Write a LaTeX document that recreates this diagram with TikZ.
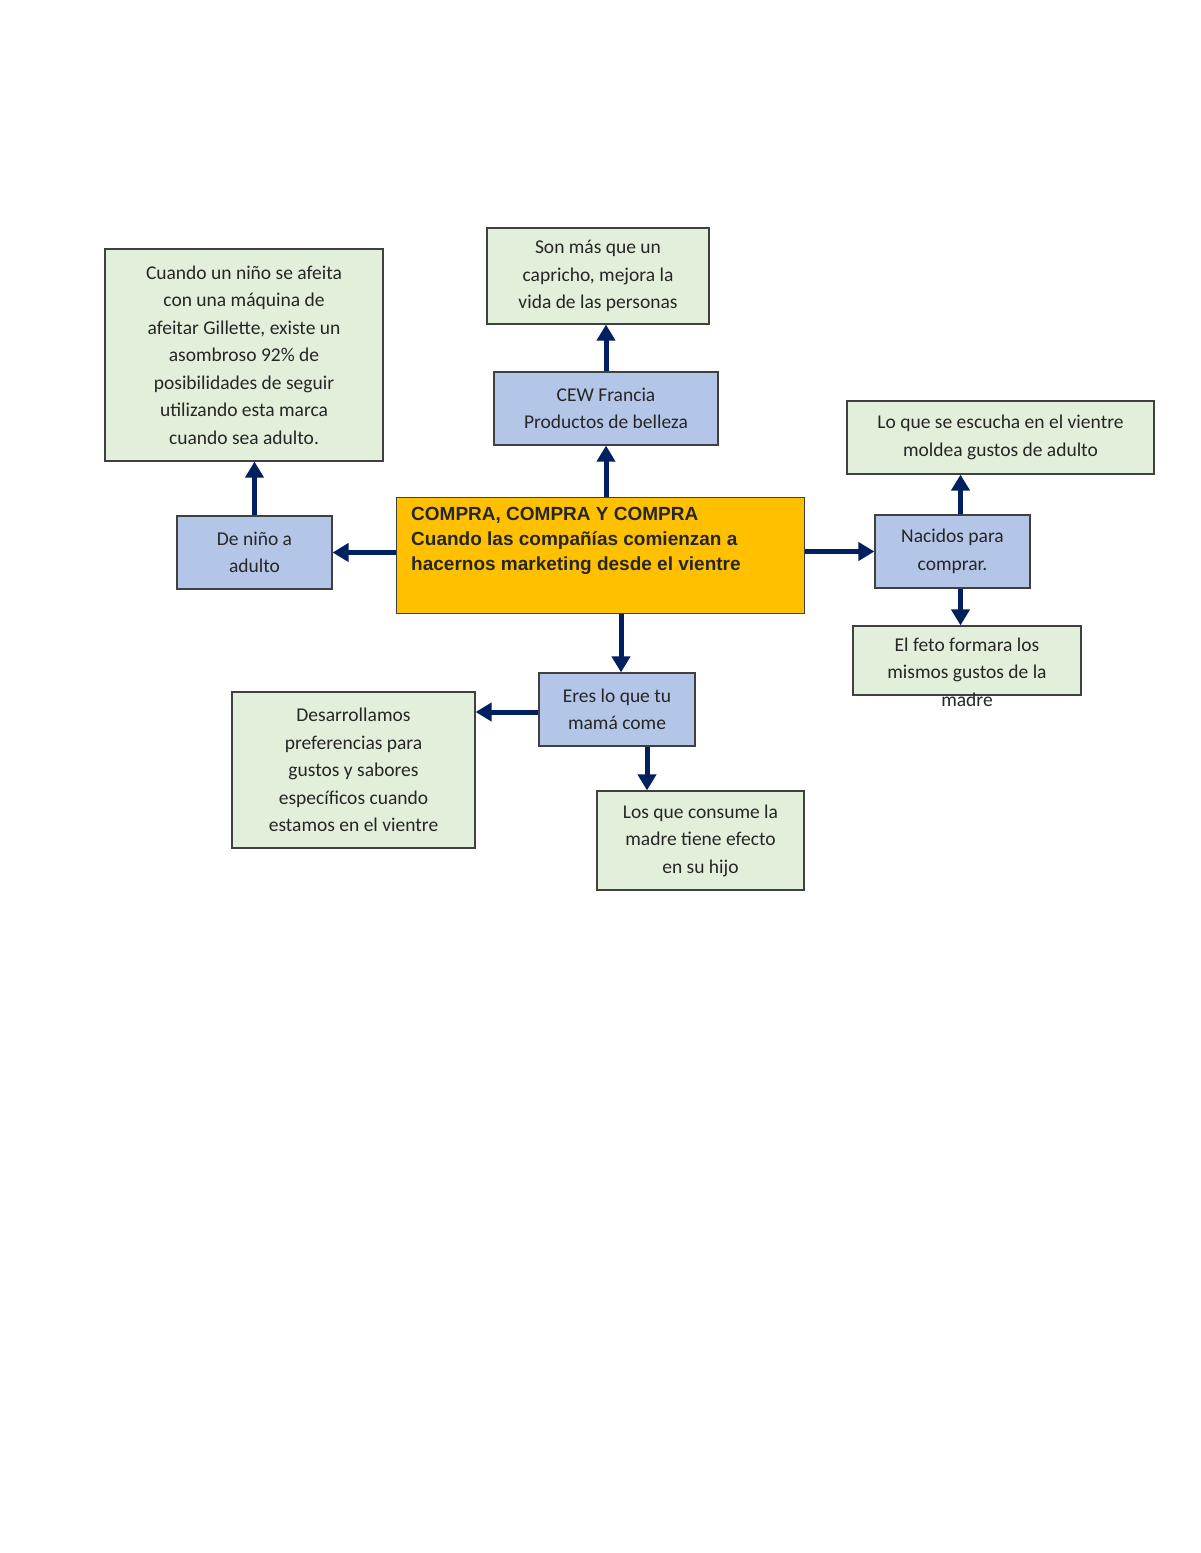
\documentclass[tikz,border=0pt]{standalone}
\usepackage{fontspec}
\setmainfont{Carlito}
\newfontfamily\arialf{Liberation Sans}
\usetikzlibrary{arrows.meta}
\definecolor{gbox}{HTML}{E2EFDA}
\definecolor{bbox}{HTML}{B4C6E7}
\definecolor{obox}{HTML}{FFC000}
\definecolor{navy}{HTML}{002060}
\tikzset{
 box/.style={draw=black!75,line width=1.2pt,inner sep=0pt,align=center,font=\fontsize{19.5}{27.5}\selectfont,text=black!85},
 gb/.style={box,fill=gbox},
 bb/.style={box,fill=bbox},
 arr/.style={navy,line width=5pt,-{Triangle[length=16pt,width=18pt]}}
}
\begin{document}
\begin{tikzpicture}[x=1pt,y=-1pt]
\useasboundingbox (0,0) rectangle (1200,1553);
\fill[white] (0,0) rectangle (1200,1553);
\node[box,fill=obox,minimum width=408,minimum height=116,anchor=north west] (main) at (396,497) {};
\node[align=left,font=\arialf\bfseries\fontsize{19}{25}\selectfont,anchor=north west,inner sep=0pt,text=black!85] (maint) at (411,507) {COMPRA, COMPRA Y COMPRA\\Cuando las compañías comienzan a\\hacernos marketing desde el vientre};
\node[bb,minimum width=224,minimum height=73] (cew) at (606,408.5) {CEW Francia\\Productos de belleza};
\node[gb,minimum width=222,minimum height=96] (son) at (598,276) {Son más que un\\capricho, mejora la\\vida de las personas};
\node[gb,minimum width=278,minimum height=212] (cua) at (244,355) {Cuando un niño se afeita\\con una máquina de\\afeitar Gillette, existe un\\asombroso 92\% de\\posibilidades de seguir\\utilizando esta marca\\cuando sea adulto.};
\node[bb,minimum width=155,minimum height=73] (den) at (254.5,552.5) {De niño a\\adulto};
\node[gb,minimum width=307,minimum height=73] (loq) at (1000.5,437.5) {Lo que se escucha en el vientre\\moldea gustos de adulto};
\node[bb,minimum width=155,minimum height=73] (nac) at (952.5,551.5) {Nacidos para\\comprar.};
\node[gb,minimum width=228,minimum height=69] (fet) at (967,660.5) {};
\node[align=center,font=\fontsize{19.5}{27.5}\selectfont,text=black!85,anchor=north] (fett) at (967,634) {El feto formara los\\mismos gustos de la\\madre};
\node[bb,minimum width=156,minimum height=73] (ere) at (617,709.5) {Eres lo que tu\\mamá come};
\node[gb,minimum width=243,minimum height=156] (des) at (353.5,770) {Desarrollamos\\preferencias para\\gustos y sabores\\específicos cuando\\estamos en el vientre};
\node[gb,minimum width=207,minimum height=99] (los) at (700.5,840.5) {Los que consume la\\madre tiene efecto\\en su hijo};
\draw[arr] (main.north -| cew.north) -- (cew.south);
\draw[arr] (cew.north) -- (cew.north |- son.south);
\draw[arr] (den.north) -- (den.north |- cua.south);
\draw[arr] (main.west |- den.east) -- (den.east);
\draw[arr] (main.east |- nac.west) -- (nac.west);
\draw[arr] ([xshift=8pt]nac.north) -- ([xshift=8pt]nac.north |- loq.south);
\draw[arr] ([xshift=8pt]nac.south) -- ([xshift=8pt]nac.south |- fet.north);
\draw[arr] ([xshift=4pt]main.south -| ere.north) -- ([xshift=4pt]ere.north);
\draw[arr] (ere.west |- 0,712) -- (des.east |- 0,712);
\draw[arr] ([xshift=30pt]ere.south) -- ([xshift=30pt]ere.south |- los.north);
\end{tikzpicture}
\end{document}
